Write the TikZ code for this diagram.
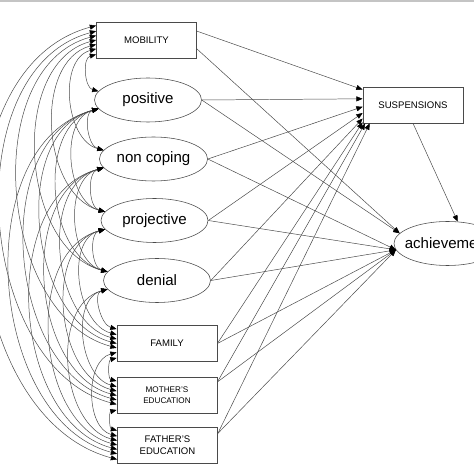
\documentclass[tikz,border=0pt]{standalone}
\usepackage{fontspec}
\setmainfont{Liberation Sans}
\usetikzlibrary{arrows.meta,positioning,calc,shapes.geometric}
\definecolor{linegray}{HTML}{4A4A4A}
\definecolor{bandgray}{HTML}{C4C4C4}

\begin{document}
\begin{tikzpicture}[x=0.025cm, y=0.025cm,
  box/.style={draw=linegray, line width=0.5pt, rectangle, minimum width=2.5cm, minimum height=0.9cm, inner sep=1pt, align=center, font=\fontsize{6.8}{8.3}\selectfont},
  latent/.style={draw=linegray, line width=0.4pt, ellipse, minimum width=2.675cm, minimum height=1.1cm, inner sep=1pt, font=\fontsize{10.7}{12}\selectfont},
  corr/.style={draw=linegray, line width=0.35pt, {Triangle[length=4.5pt,width=3.6pt,color=black]}-{Triangle[length=4.5pt,width=3.6pt,color=black]}},
  effect/.style={draw=linegray, line width=0.35pt, -{Triangle[length=4.5pt,width=3.6pt,color=black]}}]
\clip (0,0) rectangle (474,474);
\fill[bandgray] (0,472) rectangle (474,474);

% exogenous variables
\node[box, alias=v1] (mob) at (146.5,434) {MOBILITY};
\node[latent, alias=v2] (pos) at (148,374) {positive};
\node[latent, alias=v3] (noncop) at (153.5,315) {non coping};
\node[latent, alias=v4] (proj) at (154.5,253.5) {projective};
\node[latent, alias=v5] (den) at (157,193.5) {denial};
\node[box, alias=v6] (fam) at (167,130.5) {FAMILY};
\node[box, alias=v7, font=\fontsize{5.8}{7.6}\selectfont] (moth) at (167,78.5) {MOTHER'S\\EDUCATION};
\node[box, alias=v8] (fath) at (167.5,29) {FATHER'S\\EDUCATION};

% outcomes
\node[box] (susp) at (413,369) {SUSPENSIONS};
\node[latent, label={[font=\fontsize{10.7}{12}\selectfont]center:achievement}] (ach) at (447.5,230.5) {};

% correlations
\foreach \i in {1,...,7}{
  \pgfmathtruncatemacro\jnext{\i+1}
  \foreach \j in {\jnext,...,8}{
    \pgfmathtruncatemacro\as{(\i==1 || \i>5) ? 160+40*(0.12+0.13*(\i+7-\j)) : 190}
    \pgfmathtruncatemacro\ae{(\j>5) ? 160+40*(0.12+0.13*(\j-1-\i)) : 170}
    \draw[corr] (v\i.\as) to[out=195,in=165,looseness=1] (v\j.\ae);
  }
}

% paths
\foreach \src/\srcb/\sa/\aa in {mob.10/mob.-10/163/168, pos.east/pos.east/173/168,
    noncop.east/noncop.east/182/187, proj.east/proj.east/189/187, den.east/den.east/195/187,
    fam.east/fam.east/199/187, moth.15/moth.15/201/187, fath.13/fath.13/203/187}{
  \draw[effect] (\src) -- (susp.\sa);
  \draw[effect] (\srcb) -- (ach.\aa);
}
\draw[effect] (susp.south) -- (ach.65);
\end{tikzpicture}
\end{document}
